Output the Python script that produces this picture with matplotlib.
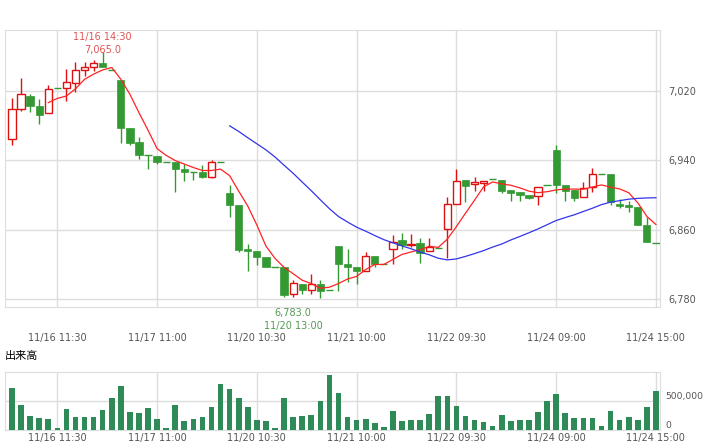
import matplotlib
matplotlib.use("Agg")
import matplotlib.pyplot as plt
import numpy as np
import pandas as pd

opens  = [6965,6999,7014,7003,6994,7023,7023,7029,7044,7047,7052,7044,7032,6977,6961,6946,6945,6938,6938,6930,6926,6926,6921,6938,
          6902,6889,6838,6835,6829,6817,6817,6786,6798,6791,6798,6791,6841,6820,6817,6813,6830,6820,6838,6848,6842,6845,6836,6839,
          6861,6890,6917,6913,6914,6918,6917,6906,6903,6900,6899,6911,6952,6912,6906,6898,6909,6924,6924,6890,6888,6886,6866,6845]
closes = [6999,7016,7003,6992,7022,7023,7030,7044,7047,7052,7047,7044,6977,6960,6946,6946,6938,6938,6930,6926,6926,6921,6938,6938,
          6888,6837,6835,6829,6817,6817,6785,6799,6791,6798,6790,6791,6820,6817,6813,6830,6820,6820,6846,6842,6844,6833,6840,6839,
          6890,6916,6910,6915,6916,6918,6905,6902,6900,6897,6909,6911,6912,6905,6897,6908,6924,6924,6892,6887,6886,6866,6846,6845]
highs  = [7012,7035,7016,7010,7027,7023,7045,7053,7053,7056,7065,7044,7032,6977,6967,6946,6945,6938,6938,6936,6926,6934,6940,6938,
          6912,6889,6844,6835,6829,6817,6817,6802,6798,6809,6802,6791,6841,6838,6817,6834,6830,6820,6854,6856,6855,6850,6850,6839,
          6898,6930,6917,6921,6916,6918,6917,6906,6903,6900,6909,6911,6958,6912,6906,6915,6931,6924,6924,6895,6893,6886,6875,6845]
lows   = [6958,6997,6996,6982,6994,7023,7008,7019,7037,7043,7047,7044,6960,6958,6942,6930,6936,6938,6903,6916,6917,6919,6919,6938,
          6875,6834,6813,6819,6817,6817,6783,6783,6786,6786,6781,6791,6789,6800,6798,6813,6817,6820,6820,6838,6840,6822,6835,6839,
          6827,6890,6892,6905,6905,6918,6902,6893,6893,6895,6889,6911,6902,6893,6893,6898,6904,6924,6888,6885,6880,6866,6846,6845]
volumes = [708,420,236,202,185,34,354,219,219,219,337,540,742,303,286,371,185,34,421,152,185,219,388,775,
           691,540,388,169,152,34,540,219,236,253,489,927,624,219,169,185,118,50,320,152,169,169,270,573,
           573,404,236,169,135,67,253,152,169,169,303,489,607,286,202,202,202,67,320,169,219,169,388,657]
volumes = [v * 1000 for v in volumes]
tick_idx = [5, 16, 27, 38, 49, 60, 71]
tick_labels = ["11/16 11:30", "11/17 11:00", "11/20 10:30", "11/21 10:00", "11/22 09:30", "11/24 09:00", "11/24 15:00"]
price_ticks = [6780, 6860, 6940, 7020]

ma5 = pd.Series(closes).rolling(5).mean()
ma25 = pd.Series(closes).rolling(25).mean()

RED = "#dd1111"; GREEN = "#339933"; VGREEN = "#2e8b57"; GRID = "#dddddd"; TXT = "#555555"

fig = plt.figure(figsize=(7.04, 4.46), dpi=100)
ax = fig.add_axes([5/704, 1-307/446, 655/704, 277/446])
av = fig.add_axes([5/704, 1-430/446, 655/704, 58/446])
x = np.arange(len(opens))
w = 0.8
for i in x:
    o, c, h, l = opens[i], closes[i], highs[i], lows[i]
    if c > o:
        ax.vlines(i, l, o, color=RED, lw=1, zorder=3)
        ax.vlines(i, c, h, color=RED, lw=1, zorder=3)
        ax.add_patch(plt.Rectangle((i-w/2, o), w, c-o, facecolor="white", edgecolor=RED, lw=1, zorder=4))
    else:
        ax.vlines(i, l, h, color=GREEN, lw=1, zorder=3)
        if o - c < 0.5:
            ax.hlines(o, i-w/2, i+w/2, color=GREEN, lw=1, zorder=4)
        else:
            ax.add_patch(plt.Rectangle((i-w/2, c), w, o-c, facecolor=GREEN, edgecolor=GREEN, lw=0.5, zorder=4))
ax.plot(x, ma5, color="#ff2222", lw=0.9, zorder=5)
ax.plot(x, ma25, color="#3333ee", lw=0.9, zorder=5)
ax.set_xlim(-0.77, 71.45)
ax.set_ylim(6771, 7090)
ax.set_xticks(tick_idx)
ax.set_xticklabels([])
ax.set_yticks(price_ticks)
ax.set_yticklabels([f"{v:,}" for v in price_ticks])
ax.yaxis.tick_right()
ax.grid(True, color=GRID, lw=1)
ax.tick_params(length=0, labelsize=7, labelcolor=TXT, pad=6)
for s in ax.spines.values():
    s.set_color(GRID)
for i, lab in zip(tick_idx, tick_labels):
    ax.annotate(lab, (i, 0), xycoords=("data", "axes fraction"), xytext=(0, -22.5), textcoords="offset points",
                ha="center", va="center", fontsize=7, color=TXT, annotation_clip=False)
ax.text(10, 7082, "11/16 14:30", ha="center", va="center", fontsize=7, color="#dd5555")
ax.text(10, 7067, "7,065.0", ha="center", va="center", fontsize=7, color="#dd5555")
ax.annotate("6,783.0", (31, 0), xycoords=("data", "axes fraction"), xytext=(0, -4.5), textcoords="offset points",
            ha="center", va="center", fontsize=7, color="#559955", annotation_clip=False)
ax.annotate("11/20 13:00", (31, 0), xycoords=("data", "axes fraction"), xytext=(0, -14), textcoords="offset points",
            ha="center", va="center", fontsize=7, color="#559955", annotation_clip=False)

av.bar(x, volumes, width=0.62, color=VGREEN, zorder=3)
av.set_xlim(-0.77, 71.45)
av.set_ylim(0, 985000)
av.set_xticks(tick_idx)
av.set_xticklabels(tick_labels)
av.set_yticks([0, 500000])
av.set_yticklabels(["0", "500,000"], va="bottom")
av.yaxis.tick_right()
av.grid(True, color=GRID, lw=1)
av.tick_params(axis="x", length=0, labelsize=7, labelcolor=TXT, pad=2)
av.tick_params(axis="y", length=0, labelsize=6.6, labelcolor=TXT, pad=4)
for s in av.spines.values():
    s.set_color(GRID)
fig.text(5/704, 1-356/446, "出来高", fontsize=8, family=["Noto Sans CJK JP", "DejaVu Sans"], va="center", ha="left")
fig.savefig("out.png", dpi=100)
